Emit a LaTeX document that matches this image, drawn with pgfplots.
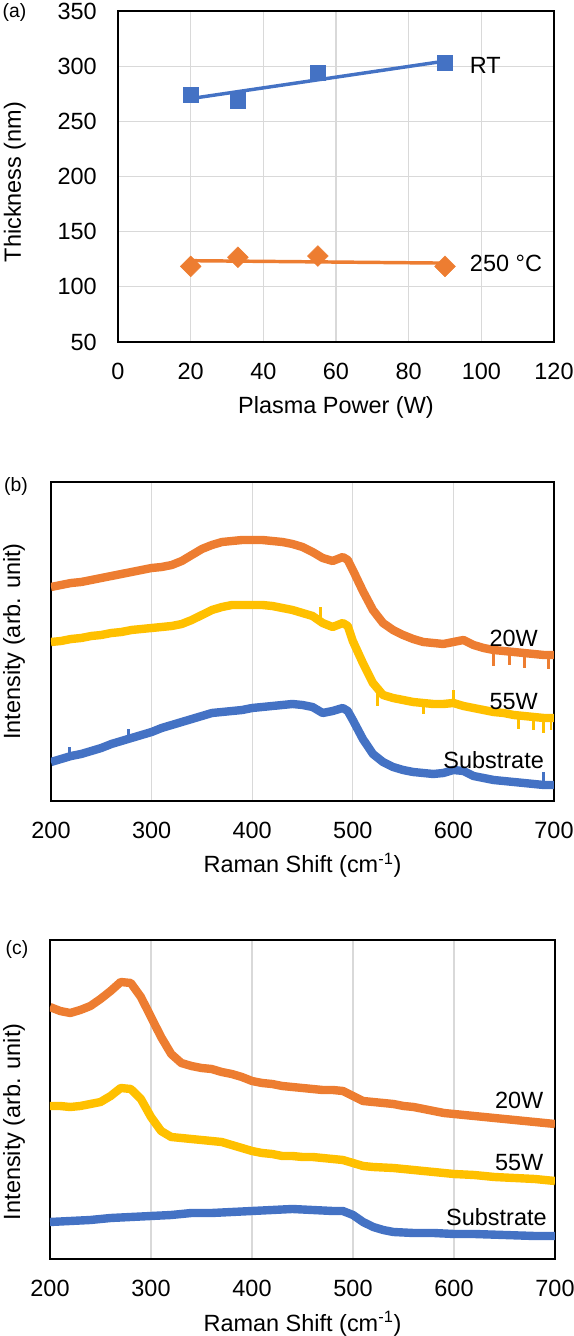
\documentclass[border=0pt]{standalone}
\usepackage{pgfplots}
\pgfplotsset{compat=1.18}
\usepackage{fontspec}
\setmainfont{Liberation Sans}
\definecolor{xblue}{HTML}{4472C4}
\definecolor{xorange}{HTML}{ED7D31}
\definecolor{xyellow}{HTML}{FFC000}
\definecolor{xgrid}{HTML}{D9D9D9}
\newcommand{\fs}{\fontsize{17.6}{21}\selectfont}
\newcommand{\fl}{\fontsize{14.5}{17}\selectfont}
\pgfplotsset{
  xl/.style={scale only axis, anchor=south west,
    axis line style={black, line width=1.2pt},
    major tick length=0pt,
    grid style={xgrid, line width=0.9pt},
    tick label style={font=\fs},
    label style={font=\fs},
    /pgf/number format/assume math mode=true,
    xticklabel style={anchor=north, inner sep=0pt, yshift=-16pt},
    yticklabel style={anchor=east, inner sep=0pt, xshift=-15.75pt},
    xlabel style={at={(axis description cs:0.5,0)}, anchor=base, yshift=-54pt},
  },
  spec/.style={no marks, line width=6.3pt, line join=round},
  spike/.style={no marks, line width=2.2pt},
}
\begin{document}
\begin{tikzpicture}
\useasboundingbox (0,0) rectangle (430.5pt,1002pt);
% ---------------- (a)
\begin{axis}[xl, at={(88.5pt,745.5pt)}, width=327pt, height=248.25pt,
  xmin=0, xmax=120, ymin=50, ymax=350,
  xtick={0,20,...,120}, ytick={50,100,...,350},
  grid=major,
  xlabel={Plasma Power (W)}, ylabel={Thickness (nm)},
  ylabel style={at={(axis description cs:-0.2225,0.483)}, anchor=base},
  clip=false]
\addplot[xblue, line width=2.6pt] coordinates {(20,270.6) (90,304.6)};
\addplot[xorange, line width=2.6pt] coordinates {(20,123.7) (90,121.5)};
\addplot[only marks, mark=square*, mark size=5.8pt, xblue] coordinates {(20,274) (33,269) (55,294) (90,303)};
\addplot[only marks, mark=square*, mark size=5.5pt, mark options={rotate=45}, xorange] coordinates {(20,118.5) (33,126.8) (55,127.9) (90,118.5)};
\node[font=\fs, anchor=west, inner sep=0pt] at (axis cs:96.8,300.4) {RT};
\node[font=\fs, anchor=west, inner sep=0pt] at (axis cs:96.8,121.5) {250 °C};
\end{axis}
% ---------------- (b)
\begin{axis}[xl, at={(38.25pt,401.25pt)}, width=377.25pt, height=239.25pt,
  xmin=200, xmax=700, ymin=0, ymax=319,
  xtick={200,300,...,700}, ytick=\empty,
  xmajorgrids,
  xlabel={Raman Shift (cm\textsuperscript{-1})}, ylabel={Intensity (arb. unit)},
  ylabel style={at={(axis description cs:-0.0616,0.5)}, anchor=base}]
\addplot[spec, xblue] coordinates {
(200,39) (210,42) (220,45) (230,47) (240,50) (250,53) (260,57) (270,60) (280,63) (290,66)
(300,69) (310,73) (320,76) (330,79) (340,82) (350,85) (360,88) (370,89) (380,90) (390,91)
(400,93) (410,94) (420,95) (430,96) (440,97) (450,96) (460,94) (470,88) (480,90) (490,93)
(495,90) (500,81) (510,62) (520,47) (530,39) (540,34) (550,31) (560,29) (570,28) (580,27)
(590,28) (600,31) (610,30) (620,25) (630,23) (640,21) (650,20) (660,19) (670,18) (680,17)
(690,16) (700,16)};
\addplot[spike, xblue] coordinates {(690,16) (690,29)};
\addplot[spike, xblue] coordinates {(218,45) (218,54)};
\addplot[spike, xblue] coordinates {(277,62) (277,72)};
\addplot[spec, xyellow] coordinates {
(200,159) (210,160) (220,162) (230,163) (240,165) (250,166) (260,168) (270,169) (280,171) (290,172)
(300,173) (310,174) (320,175) (330,177) (340,181) (350,186) (360,191) (370,194) (380,196) (390,196)
(400,196) (410,196) (420,195) (430,193) (440,191) (450,188) (460,185) (470,178) (480,174) (490,178)
(495,175) (500,160) (510,138) (520,118) (530,106) (540,103) (550,101) (560,99) (570,98) (580,97)
(590,97) (600,98) (610,95) (620,93) (630,91) (640,89) (650,88) (660,86) (670,85) (680,84)
(690,83) (700,83)};
\addplot[spike, xyellow] coordinates {(468,180) (468,194)};
\addplot[spike, xyellow] coordinates {(525,112) (525,95)};
\addplot[spike, xyellow] coordinates {(570,98) (570,87)};
\addplot[spike, xyellow] coordinates {(600,98) (600,111)};
\addplot[spike, xyellow] coordinates {(665,86) (665,72)};
\addplot[spike, xyellow] coordinates {(680,84) (680,71)};
\addplot[spike, xyellow] coordinates {(690,83) (690,68)};
\addplot[spike, xyellow] coordinates {(697,83) (697,71)};
\addplot[spec, xorange] coordinates {
(200,214) (210,216) (220,218) (230,219) (240,221) (250,223) (260,225) (270,227) (280,229) (290,231)
(300,233) (310,234) (320,236) (330,240) (340,246) (350,252) (360,256) (370,259) (380,260) (390,261)
(400,261) (410,261) (420,260) (430,259) (440,257) (450,254) (460,249) (470,243) (480,240) (490,244)
(495,241) (500,231) (510,210) (520,191) (530,178) (540,171) (550,166) (560,162) (570,159) (580,158)
(590,157) (600,159) (610,161) (620,156) (630,153) (640,151) (650,150) (660,149)
(670,148) (680,147) (690,146) (700,146)};
\addplot[spike, xorange] coordinates {(640,151) (640,135)};
\addplot[spike, xorange] coordinates {(656,149) (656,136)};
\addplot[spike, xorange] coordinates {(671,148) (671,133)};
\addplot[spike, xorange] coordinates {(695,146) (695,132)};
\node[font=\fs] at (axis cs:660,163) {20W};
\node[font=\fs] at (axis cs:660,99) {55W};
\node[font=\fs] at (axis cs:640,41) {Substrate};
\end{axis}
% ---------------- (c)
\begin{axis}[xl, at={(37.5pt,57.75pt)}, width=378.75pt, height=239.25pt,
  xmin=200, xmax=700, ymin=0, ymax=319,
  xtick={200,300,...,700}, ytick=\empty,
  xmajorgrids,
  xlabel={Raman Shift (cm\textsuperscript{-1})}, ylabel={Intensity (arb. unit)},
  ylabel style={at={(axis description cs:-0.0594,0.43)}, anchor=base}]
\addplot[spec, xblue] coordinates {
(200,37) (220,38) (240,39) (260,41) (280,42) (300,43) (320,44) (340,46) (360,46) (380,47)
(400,48) (420,49) (440,50) (460,49) (480,48) (490,48) (500,44) (510,37) (520,32) (530,29)
(540,27) (560,26) (580,26) (600,25) (620,25) (650,24) (680,23) (700,23)};
\addplot[spec, xyellow] coordinates {
(200,153) (210,153) (220,152) (230,153) (240,155) (250,157) (260,163) (270,171) (280,170) (290,160)
(300,142) (310,128) (320,122) (330,121) (340,120) (350,119) (360,118) (370,117) (380,114) (390,111)
(400,108) (410,106) (420,105) (430,103) (440,103) (450,102) (460,102) (470,101) (480,100) (490,99)
(500,96) (510,93) (520,92) (540,91) (560,89) (580,87) (600,85) (620,84) (640,82) (660,81) (680,80) (700,78)};
\addplot[spec, xorange] coordinates {
(200,252) (210,248) (220,246) (230,249) (240,253) (250,260) (260,268) (270,277) (280,276) (290,262)
(300,242) (310,222) (320,205) (330,196) (340,193) (350,191) (360,190) (370,187) (380,185) (390,182)
(400,178) (410,176) (420,175) (430,173) (440,172) (450,171) (460,170) (470,169) (480,169) (490,168)
(500,163) (510,158) (520,157) (530,156) (540,155) (550,153) (560,152) (570,150) (580,148) (590,146)
(600,145) (620,143) (640,141) (660,139) (680,137) (700,135)};
\node[font=\fs] at (axis cs:664.6,159) {20W};
\node[font=\fs] at (axis cs:664.6,96) {55W};
\node[font=\fs] at (axis cs:642,42) {Substrate};
\end{axis}
\node[font=\fl] at (10.875pt,992.6pt) {(a)};
\node[font=\fl] at (12pt,636.75pt) {(b)};
\node[font=\fl] at (12.75pt,289.5pt) {(c)};
\end{tikzpicture}
\end{document}
